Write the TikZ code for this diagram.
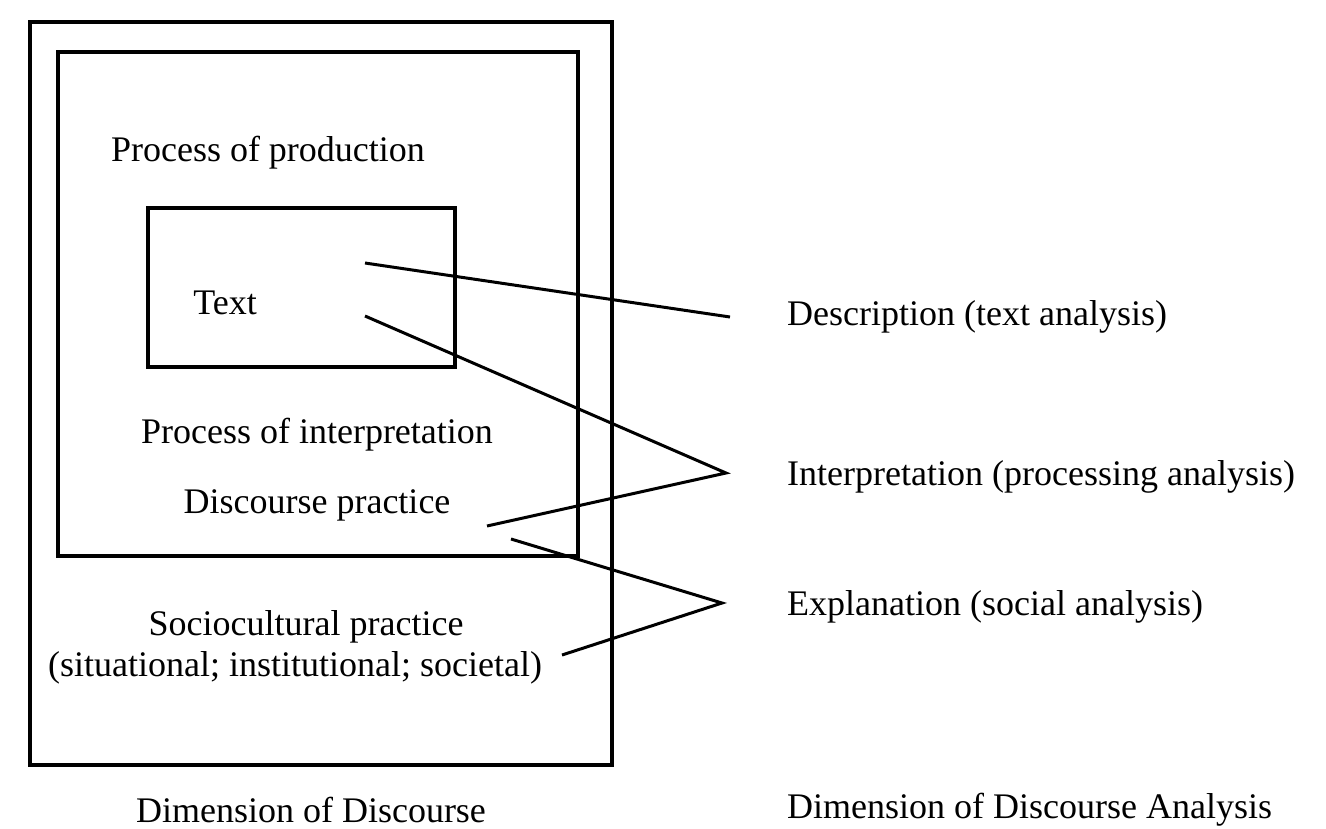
\documentclass[tikz,border=0pt]{standalone}
\usepackage{fontspec}
\setmainfont{Liberation Serif}
\begin{document}
\begin{tikzpicture}[x=1pt,y=-1pt,
  box/.style={draw,line width=3.2pt,inner sep=0pt,outer sep=0pt,anchor=north west},
  lbl/.style={inner sep=0pt,font=\fontsize{36}{42}\selectfont},
  rlbl/.style={lbl,anchor=west},
  link/.style={line width=3pt}]
\useasboundingbox[fill=white] (0,0) rectangle (1326,828);
% boxes
\node[box,minimum width=582pt,minimum height=743pt] (outer) at (30,22) {};
\node[box,minimum width=520pt,minimum height=504pt] (middle) at (58,52) {};
\node[box,minimum width=307pt,minimum height=159pt] (inner) at (148,208) {};
% left texts
\node[lbl] (prod) at (268,153) {Process of production};
\node[lbl] (text) at (225,303) {Text};
\node[lbl] (interp) at (317,435) {Process of interpretation};
\node[lbl] (dprac) at (317,505) {Discourse practice};
\node[lbl] (socio) at (306,627) {Sociocultural practice};
\node[lbl] (situ) at (295,668) {(situational; institutional; societal)};
\node[lbl] (dimd) at (311,810) {Dimension of Discourse};
% right texts
\node[rlbl] (desc) at (787,317) {Description (text analysis)};
\node[rlbl] (interpa) at (787,477) {Interpretation (processing analysis)};
\node[rlbl] (expl) at (787,607) {Explanation (social analysis)};
\node[rlbl] (dimda) at (787,810) {Dimension of Discourse Analysis};
% connector end points
\coordinate (d1) at (365,263);
\coordinate (dA) at (730,317);
\coordinate (i1) at (365,316);
\coordinate (i2) at (487,526);
\coordinate (iA) at (726,473);
\coordinate (e1) at (511,539);
\coordinate (e2) at (562,655);
\coordinate (eA) at (722,603);
\draw[link] (d1) -- (dA);
\draw[link] (i1) -- (iA) -- (i2);
\draw[link] (e1) -- (eA) -- (e2);
\end{tikzpicture}
\end{document}
